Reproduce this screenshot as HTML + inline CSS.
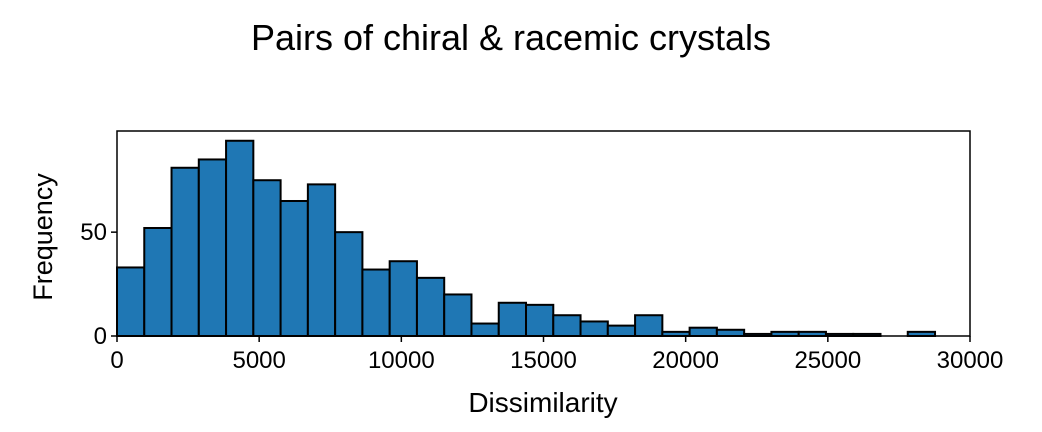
<!DOCTYPE html>
<html><head><meta charset="utf-8"><style>
body{margin:0;background:#fff;}
svg{display:block;font-family:"Liberation Sans",Arial,sans-serif;}
</style></head><body>
<svg id="chart" width="1042" height="432">
<text x="511" y="50" font-size="36" text-anchor="middle">Pairs of chiral &amp; racemic crystals</text>
<g id="bars"></g>
<g id="axes"></g>
<text x="543" y="412" font-size="28" text-anchor="middle">Dissimilarity</text>
<text transform="translate(52,237) rotate(-90)" font-size="27" text-anchor="middle">Frequency</text>
</svg>
<script>
const counts=[33,52,81,85,94,75,65,73,50,32,36,28,20,6,16,15,10,7,5,10,2,4,3,1,2,2,1,1,0,2];
const binStart=0;
const binEnd=28770;
const xTicks=[0,5000,10000,15000,20000,25000,30000];
const yTicks=[0,50];
const L=117,R=970,T=131,B=336;
const xMax=30000;
const yMax=Math.max(...counts)*1.05;
const sx=v=>L+(v/xMax)*(R-L);
const sy=v=>B-(v/yMax)*(B-T);
const NS="http://www.w3.org/2000/svg";
const bars=document.getElementById('bars'),axes=document.getElementById('axes');
const w=(binEnd-binStart)/counts.length;
counts.forEach((c,i)=>{
  const r=document.createElementNS(NS,'rect');
  const x0=sx(binStart+i*w),x1=sx(binStart+(i+1)*w);
  r.setAttribute('x',x0);r.setAttribute('width',x1-x0);
  r.setAttribute('y',sy(c));r.setAttribute('height',B-sy(c));
  r.setAttribute('fill','#1f77b4');r.setAttribute('stroke','#000');r.setAttribute('stroke-width','2');
  
  
  bars.appendChild(r);
});
const frame=document.createElementNS(NS,'rect');
frame.setAttribute('x',L);frame.setAttribute('y',T);frame.setAttribute('width',R-L);frame.setAttribute('height',B-T);
frame.setAttribute('fill','none');frame.setAttribute('stroke','#000');frame.setAttribute('stroke-width','1.5');


axes.appendChild(frame);
xTicks.forEach(t=>{
  const x=sx(t);
  const l=document.createElementNS(NS,'line');
  l.setAttribute('x1',x);l.setAttribute('x2',x);l.setAttribute('y1',B);l.setAttribute('y2',B+6);l.setAttribute('stroke','#000');l.setAttribute('stroke-width','1.5');
  
  
  axes.appendChild(l);
  const tx=document.createElementNS(NS,'text');
  tx.setAttribute('x',x);tx.setAttribute('y',B+32);tx.setAttribute('font-size','24');tx.setAttribute('text-anchor','middle');
  tx.textContent=t;
  
  
  axes.appendChild(tx);
});
yTicks.forEach(t=>{
  const y=sy(t);
  const l=document.createElementNS(NS,'line');
  l.setAttribute('x1',L-6);l.setAttribute('x2',L);l.setAttribute('y1',y);l.setAttribute('y2',y);l.setAttribute('stroke','#000');l.setAttribute('stroke-width','1.5');
  
  
  axes.appendChild(l);
  const tx=document.createElementNS(NS,'text');
  tx.setAttribute('x',L-10);tx.setAttribute('y',y+8);tx.setAttribute('font-size','24');tx.setAttribute('text-anchor','end');
  tx.textContent=t;
  
  
  axes.appendChild(tx);
});
</script>
</body></html>
